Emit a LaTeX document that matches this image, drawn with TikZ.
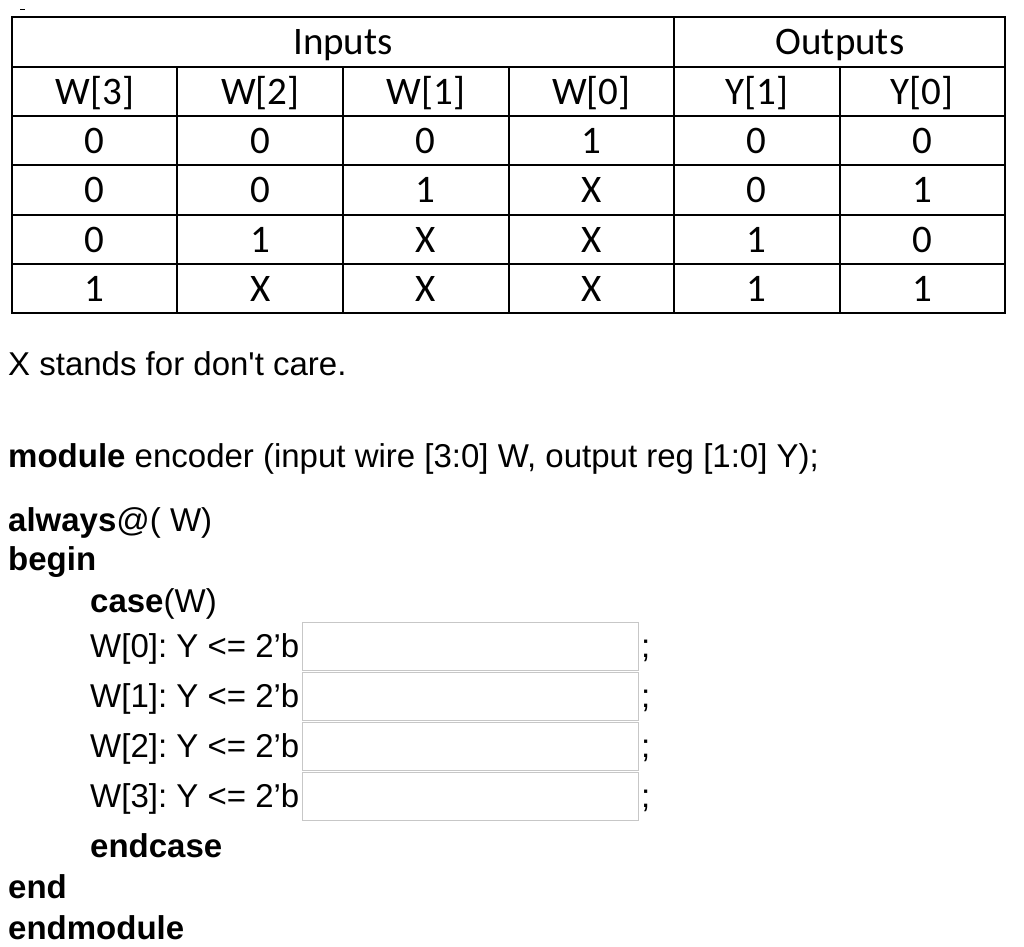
\documentclass[tikz,border=0pt]{standalone}
\usepackage{fontspec}
\setmainfont{Liberation Sans}
\newfontfamily\calib{Carlito}
\begin{document}
\begin{tikzpicture}[x=1pt,y=-1pt,
  cell/.style={anchor=base,inner sep=0pt,font=\calib\fontsize{39}{42}\selectfont},
  code/.style={anchor=base west,inner sep=0pt,font=\fontsize{33}{40}\selectfont},
  blank/.style={draw=black!22,line width=1pt}]
\useasboundingbox (0,0) rectangle (1024,946);
\draw[line width=1pt] (20,9) coordinate (d1) -- (25,9) coordinate (d2);
% table
\draw[line width=1.5pt] (12,17) rectangle (1005,313);
\foreach \y in {67,116,165,215,264} \draw[line width=1.5pt] (12,\y) -- (1005,\y);
\foreach \x in {177,343,509,840} \draw[line width=1.5pt] (\x,67) -- (\x,313);
\draw[line width=1.5pt] (674,17) -- (674,313);
\node[cell] (hin) at (343,54) {Inputs};
\node[cell] (hout) at (840,54) {Outputs};
\foreach \t [count=\i] in {W[3],W[2],W[1],W[0],Y[1],Y[0]}
  \node[cell] (h\i) at ({12+(\i-0.5)*165.5},104) {\t};
\foreach \r/\row in {1/{0,0,0,1,0,0},2/{0,0,1,X,0,1},3/{0,1,X,X,1,0},4/{1,X,X,X,1,1}}{
  \foreach \t [count=\i] in \row
    \node[cell] (c\r\i) at ({12+(\i-0.5)*165.5},{104+\r*49.4}) {\t};
}
\node[code] (note) at (8,375) {X stands for don\textquotesingle t care.};
\node[code] (mod) at (8,467) {\textbf{module} encoder (input wire [3:0] W, output reg [1:0] Y);};
\node[code] (alw) at (8,531) {\textbf{always}@( W)};
\node[code] (beg) at (8,570) {\textbf{begin}};
\node[code] (cas) at (90,612) {\textbf{case}(W)};
\foreach \k in {0,1,2,3}{
  \node[code] (w\k) at (90,{657+50*\k}) {W[\k]:~Y <= 2’b};
  \draw[blank] (302,{622+50*\k}) rectangle (638,{670+50*\k});
  \node[code] (s\k) at (641,{657+50*\k}) {;};
}
\node[code] (endc) at (90,857) {\textbf{endcase}};
\node[code] (en) at (8,898) {\textbf{end}};
\node[code] (endm) at (8,939) {\textbf{endmodule}};
\end{tikzpicture}
\end{document}
